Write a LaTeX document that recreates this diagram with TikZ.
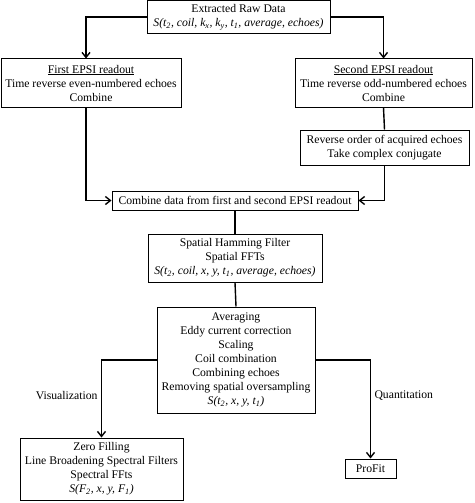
\documentclass[tikz,border=0pt]{standalone}
\usepackage{fontspec}
\setmainfont{Liberation Serif}
\usetikzlibrary{arrows.meta}

\begin{document}
\begin{tikzpicture}[x=1pt,y=-1pt,
        box/.style={draw,line width=1pt,align=center,inner sep=1pt,font=\fontsize{11.7}{14}\selectfont},
        link/.style={line width=1.4pt},
        arr/.style={link,-{Straight Barb[length=5pt,width=8pt,line width=1.4pt]}}]
        \useasboundingbox (0,0) rectangle (474,503);
        \node[box,minimum width=183pt,minimum height=33pt](raw)at(238.5,17){Extracted Raw Data\\\textit{S(t\textsubscript{2}, coil, k\textsubscript{x}, k\textsubscript{y}, t\textsubscript{1}, average, echoes)}};
        \node[box,minimum width=180pt,minimum height=48pt](first)at(91,83){\underline{First EPSI readout}\\Time reverse even-numbered echoes\\Combine};
        \node[box,minimum width=177pt,minimum height=48pt](second)at(383.5,83){\underline{Second EPSI readout}\\Time reverse odd-numbered echoes\\Combine};
        \node[box,minimum width=169pt,minimum height=35pt](reverse)at(384.5,147.5){Reverse order of acquired echoes\\Take complex conjugate};
        \node[box,minimum width=246pt,minimum height=19pt](combine)at(235,200.5){Combine data from first and second EPSI readout};
        \node[box,minimum width=174pt,minimum height=48pt](hamming)at(235,258){Spatial Hamming Filter\\Spatial FFTs\\\textit{S(t\textsubscript{2}, coil, x, y, t\textsubscript{1}, average, echoes)}};
        \node[box,minimum width=158pt,minimum height=106pt](averaging)at(236,360){Averaging\\Eddy current correction\\Scaling\\Coil combination\\Combining echoes\\Removing spatial oversampling\\\textit{S(t\textsubscript{2}, x, y, t\textsubscript{1})}};
        \node[box,minimum width=163pt,minimum height=62pt](zerofill)at(101.5,469){Zero Filling\\Line Broadening Spectral Filters\\Spectral FFts\\\textit{S(F\textsubscript{2}, x, y, F\textsubscript{1})}};
        \node[box,minimum width=51pt,minimum height=19pt](profit)at(370.5,468.5){ProFit};
        \draw[arr](raw.west)-|([xshift=-5pt]first.north);
        \draw[arr](raw.east)-|(second.north);
        \draw[link](second.south)--(reverse.north);
        \draw[arr](reverse.south)|-(combine.east);
        \draw[arr]([xshift=-5pt]first.south)|-(combine.west);
        \draw[link](combine.south)--(hamming.north);
        \draw[link](hamming.south)--(averaging.north);
        \draw[arr](averaging.west)-|(zerofill.north);
        \draw[arr](averaging.east)-|(profit.north);
        \node[font=\fontsize{11.7}{14}\selectfont,left](vis)at(101,396){Visualization};
        \node[font=\fontsize{11.7}{14}\selectfont,right](quant)at(371,396){Quantitation};
    \end{tikzpicture}
\end{document}
